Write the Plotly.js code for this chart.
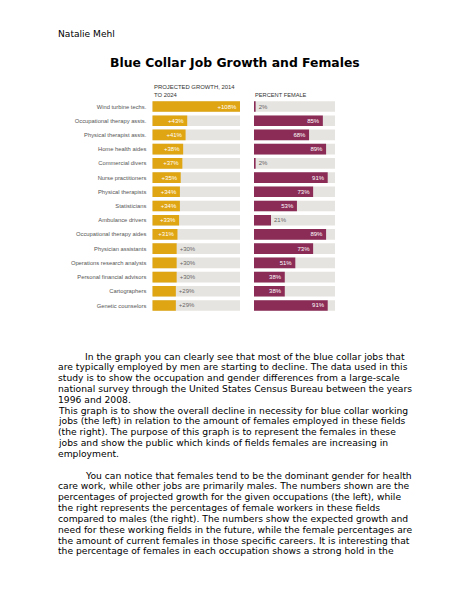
<!DOCTYPE html>
<html>
<head>
<meta charset="utf-8">
<script src="https://cdn.plot.ly/plotly-3.0.1.min.js"></script>
<style>
html,body{margin:0;padding:0;background:#fff;}
#chart{width:474px;height:613px;}
</style>
</head>
<body>
<div id="chart"></div>
<script>
const author = "Natalie Mehl";
const chartTitle = "Blue Collar Job Growth and Females";
const occupations = [
  "Wind turbine techs.", "Occupational therapy assts.", "Physical therapist assts.",
  "Home health aides", "Commercial divers", "Nurse practitioners", "Physical therapists",
  "Statisticians", "Ambulance drivers", "Occupational therapy aides", "Physician assistants",
  "Operations research analysts", "Personal financial advisors", "Cartographers", "Genetic counselors"
];
const projectedGrowth = [108, 43, 41, 38, 37, 35, 34, 34, 33, 31, 30, 30, 30, 29, 29];
const percentFemale = [2, 85, 68, 89, 2, 91, 73, 53, 21, 89, 73, 51, 38, 38, 91];
const leftHeader = "PROJECTED GROWTH, 2014<br>TO 2024";
const rightHeader = "PERCENT FEMALE";
const paragraph1 = [
  "In the graph you can clearly see that most of the blue collar jobs that",
  "are typically employed by men are starting to decline. The data used in this",
  "study is to show the occupation and gender differences from a large-scale",
  "national survey through the United States Census Bureau between the years",
  "1996 and 2008.",
  "This graph is to show the overall decline in necessity for blue collar working",
  "jobs (the left) in relation to the amount of females employed in these fields",
  "(the right). The purpose of this graph is to represent the females in these",
  "jobs and show the public which kinds of fields females are increasing in",
  "employment."
];
const paragraph2 = [
  "You can notice that females tend to be the dominant gender for health",
  "care work, while other jobs are primarily males. The numbers shown are the",
  "percentages of projected growth for the given occupations (the left), while",
  "the right represents the percentages of female workers in these fields",
  "compared to males (the right). The numbers show the expected growth and",
  "need for these working fields in the future, while the female percentages are",
  "the amount of current females in those specific careers. It is interesting that",
  "the percentage of females in each occupation shows a strong hold in the"
];

const W = 474, H = 613;
const px = x => x / W;
const py = y => 1 - y / H;

const YEL = '#DFA512', PUR = '#8B2C57', GRY = '#E6E4E0';
const chartFont = 'Liberation Sans, Arial, sans-serif';
const bodyFont = 'DejaVu Sans, sans-serif';

const maxGrowth = Math.max(...projectedGrowth);
const traces = [
  {type:'bar', orientation:'h', x: occupations.map(() => maxGrowth), y: occupations,
   xaxis:'x', yaxis:'y', marker:{color:GRY}, width:0.75, hoverinfo:'skip', showlegend:false},
  {type:'bar', orientation:'h', x: projectedGrowth, y: occupations, xaxis:'x', yaxis:'y',
   marker:{color:YEL}, width:0.75, showlegend:false,
   text: projectedGrowth.map(v => '+' + v + '%'),
   textposition: projectedGrowth.map(v => v > 30 ? 'inside' : 'outside'),
   insidetextanchor:'end', constraintext:'none', cliponaxis:false,
   insidetextfont:{color:'#ffffff', size:6, family:chartFont},
   outsidetextfont:{color:'#666666', size:6, family:chartFont}},
  {type:'bar', orientation:'h', x: occupations.map(() => 100), y: occupations,
   xaxis:'x2', yaxis:'y2', marker:{color:GRY}, width:0.75, hoverinfo:'skip', showlegend:false},
  {type:'bar', orientation:'h', x: percentFemale, y: occupations, xaxis:'x2', yaxis:'y2',
   marker:{color:PUR}, width:0.75, showlegend:false,
   text: percentFemale.map(v => v + '%'),
   textposition: percentFemale.map(v => v > 25 ? 'inside' : 'outside'),
   insidetextanchor:'end', constraintext:'none', cliponaxis:false,
   insidetextfont:{color:'#ffffff', size:6, family:chartFont},
   outsidetextfont:{color:'#666666', size:6, family:chartFont}}
];

const yTop = py(99.4), yBot = py(312.6);
const P = {xref:'paper', yref:'paper', showarrow:false};
const annotations = [
  Object.assign({text: author, x: px(56), y: py(34), xanchor:'left', yanchor:'middle',
   font:{family:bodyFont, size:9.1, color:'#000'}}, P),
  Object.assign({text: '<b>' + chartTitle + '</b>', x: px(234.5), y: py(63), xanchor:'center', yanchor:'middle',
   font:{family:bodyFont, size:12.4, color:'#000'}}, P),
  Object.assign({text: leftHeader, x: px(152), y: py(82), xanchor:'left', yanchor:'top', align:'left',
   font:{family:chartFont, size:5.9, color:'#333'}}, P),
  Object.assign({text: rightHeader, x: px(253), y: py(90), xanchor:'left', yanchor:'top', align:'left',
   font:{family:chartFont, size:5.7, color:'#333'}}, P)
];
const lineStep = 10.83, firstLine = 356;
const bodyStyle = {family:bodyFont, size:9.2, color:'#000'};
paragraph1.forEach((t, i) => annotations.push(Object.assign({
  text: t, x: px(i === 0 ? 83 : 56), y: py(firstLine + i * lineStep), xanchor:'left', yanchor:'middle',
  font:bodyStyle}, P)));
paragraph2.forEach((t, i) => annotations.push(Object.assign({
  text: t, x: px(i === 0 ? 83 : 56), y: py(firstLine + (i + paragraph1.length + 1) * lineStep), xanchor:'left', yanchor:'middle',
  font:bodyStyle}, P)));

const layout = {
  width: W, height: H, margin:{l:0,r:0,t:0,b:0},
  paper_bgcolor:'#fff', plot_bgcolor:'rgba(0,0,0,0)',
  barmode:'overlay', bargap:0.25,
  xaxis:{domain:[px(152.3), px(240)], range:[0, maxGrowth], showgrid:false, zeroline:false,
         showticklabels:false, ticks:'', fixedrange:true},
  yaxis:{domain:[yBot, yTop], autorange:'reversed', showgrid:false, zeroline:false, ticks:'',
         ticklabelstandoff:5, tickfont:{family:chartFont, size:5.8, color:'#555'}},
  xaxis2:{domain:[px(254), px(335)], range:[0, 100], showgrid:false, zeroline:false,
          showticklabels:false, ticks:'', anchor:'y2'},
  yaxis2:{domain:[yBot, yTop], autorange:'reversed', showgrid:false, zeroline:false,
          showticklabels:false, ticks:'', anchor:'x2', matches:'y'},
  annotations: annotations,
  font:{family:chartFont}
};

Plotly.newPlot('chart', traces, layout, {displayModeBar:false, staticPlot:true});
</script>
</body>
</html>
